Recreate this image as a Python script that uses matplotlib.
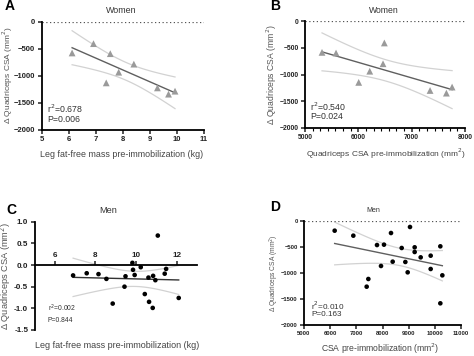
import numpy as np
import matplotlib
matplotlib.use("Agg")
import matplotlib.pyplot as plt
from matplotlib.ticker import MultipleLocator, AutoMinorLocator

plt.rcParams['font.family'] = ['Liberation Sans', 'DejaVu Sans']

# Panel A: women, leg fat-free mass (kg) vs delta quadriceps CSA (mm2)
a_x = [6.13, 6.92, 7.54, 8.41, 7.85, 7.39, 9.28, 9.69, 9.93]
a_y = [-580, -407, -593, -787, -937, -1135, -1228, -1344, -1289]
# Panel B: women, quadriceps CSA pre (mm2) vs delta CSA
b_x = [5319, 5582, 6007, 6214, 6463, 6488, 7345, 7651, 7758]
b_y = [-584, -597, -1148, -938, -798, -407, -1300, -1350, -1236]
# Panel C: men, leg fat-free mass (kg) vs delta CSA
c_x = [6.9, 7.57, 8.15, 8.54, 8.85, 9.43, 9.48, 9.82, 9.85, 9.93, 10.23,
       10.43, 10.61, 10.64, 10.82, 10.84, 10.95, 11.07, 11.41, 11.48, 12.1]
c_y = [-0.24, -0.19, -0.21, -0.32, -0.89, -0.5, -0.26, 0.05, -0.11, -0.23, -0.05,
       -0.67, -0.29, -0.85, -0.99, -0.25, -0.35, 0.68, -0.2, -0.09, -0.76]
# Panel D: men, CSA pre (mm2) vs delta CSA
d_x = [6172, 6885, 7395, 7459, 7790, 8057, 7943, 8325, 8389, 8733, 8873,
       8962, 9051, 9229, 9229, 9459, 9841, 9841, 10210, 10210, 10287]
d_y = [-186, -282, -1263, -1115, -462, -455, -865, -231, -782, -519, -788,
       -987, -115, -506, -596, -699, -667, -923, -487, -1583, -1045]

stats = {'A': ('0.678', '0.006'), 'B': ('0.540', '0.024'),
         'C': ('0.002', '0.844'), 'D': ('0.010', '0.163')}
t_crit = {9: 2.365, 21: 2.093}
ylab = 'Δ Quadriceps CSA (mm$^2$)'

W, H = 474, 356
fig = plt.figure(figsize=(W / 100, H / 100), dpi=100)


def add_ax(x0, y0, x1, y1):
    return fig.add_axes([x0 / W, 1 - y1 / H, (x1 - x0) / W, (y1 - y0) / H])


def fx(px):
    return px / W


def fy(py):
    return 1 - py / H


def fit_band(ax, x, y, line_c='#5f5f5f'):
    x = np.asarray(x, float)
    y = np.asarray(y, float)
    n = len(x)
    b, a = np.polyfit(x, y, 1)
    xs = np.linspace(x.min(), x.max(), 100)
    yhat = a + b * xs
    resid = y - (a + b * x)
    s = np.sqrt(np.sum(resid ** 2) / (n - 2))
    se = s * np.sqrt(1 / n + (xs - x.mean()) ** 2 / np.sum((x - x.mean()) ** 2))
    ax.plot(xs, yhat, color=line_c, lw=1.0, zorder=2)
    ax.plot(xs, yhat + t_crit[n] * se, color='#d2d2d2', lw=0.9, zorder=1)
    ax.plot(xs, yhat - t_crit[n] * se, color='#d2d2d2', lw=0.9, zorder=1)


def style(ax, tick_fs, ylab_fs, ylab_x):
    for s in ['top', 'right']:
        ax.spines[s].set_visible(False)
    for s in ['left', 'bottom']:
        ax.spines[s].set_linewidth(1.3)
    ax.tick_params(length=3, width=1.1, labelsize=tick_fs, pad=1.5, colors='#222222')
    ax.tick_params(which='minor', length=2, width=0.8)
    for lab in ax.get_xticklabels() + ax.get_yticklabels():
        lab.set_fontweight('bold')
    ax.set_ylabel(ylab, fontsize=ylab_fs, color='#555555')
    ax.yaxis.set_label_coords(ylab_x, 0.5)
    ax.yaxis.label.set_va('center')


def texts(key, letter_xy, title, title_xy, title_fs, stat_x, stat_y, stat_fs,
          xlabel, xlabel_xy, xlabel_fs):
    r2, p = stats[key]
    fig.text(fx(letter_xy[0]), fy(letter_xy[1]), key, fontsize=10, fontweight='bold',
             ha='center', va='center')
    fig.text(fx(title_xy[0]), fy(title_xy[1]), title, fontsize=title_fs, color='#333333',
             ha='center', va='center')
    fig.text(fx(stat_x), fy(stat_y[0]), 'r$^2$=' + r2, fontsize=stat_fs, color='#333333',
             ha='left', va='center')
    fig.text(fx(stat_x), fy(stat_y[1]), 'P=' + p, fontsize=stat_fs, color='#333333',
             ha='left', va='center')
    fig.text(fx(xlabel_xy[0]), fy(xlabel_xy[1]), xlabel, fontsize=xlabel_fs, color='#444444',
             ha='center', va='center')


tri = dict(marker='^', s=24, color='#9a9a9a', edgecolor='none', zorder=3, clip_on=False)
dot = dict(marker='o', s=11, color='black', edgecolor='none', zorder=3, clip_on=False)
dotted = dict(color='#555555', lw=0.9, ls=(0, (1, 2)))

# A
ax = add_ax(41.5, 21.7, 204, 129.5)
ax.scatter(a_x, a_y, **tri)
fit_band(ax, a_x, a_y)
ax.axhline(0, **dotted)
ax.set_xlim(5, 11)
ax.set_ylim(-2000, 0)
ax.yaxis.set_major_locator(MultipleLocator(500))
ax.xaxis.set_major_locator(MultipleLocator(1))
style(ax, 5.5, 6.0, -0.21)
texts('A', (9.5, 6), 'Women', (121, 10.7), 6.4, 47, (109, 119.3), 6.3,
      'Leg fat-free mass pre-immobilization (kg)', (122, 154), 6.4)

# B
ax = add_ax(305, 21.3, 465, 127.7)
ax.scatter(b_x, b_y, **tri)
fit_band(ax, b_x, b_y)
ax.axhline(0, **dotted)
ax.set_xlim(5000, 8000)
ax.set_ylim(-2000, 0)
ax.yaxis.set_major_locator(MultipleLocator(500))
ax.xaxis.set_major_locator(MultipleLocator(1000))
ax.xaxis.set_minor_locator(AutoMinorLocator(7))
style(ax, 4.9, 6.2, -0.206)
texts('B', (275, 6.5), 'Women', (383.7, 10.7), 6.2, 310, (107.3, 116.7), 6.3,
      'Quadriceps CSA pre-immobilization (mm$^2$)', (386, 154), 6.0)

# C
ax = add_ax(34.5, 221.7, 197, 330)
ax.scatter(c_x, c_y, **dot)
fit_band(ax, c_x, c_y, line_c='#333333')
ax.set_xlim(5, 13)
ax.set_ylim(-1.5, 1.0)
ax.yaxis.set_major_locator(MultipleLocator(0.5))
ax.xaxis.set_major_locator(MultipleLocator(2))
ax.xaxis.set_major_formatter(lambda v, p: '' if v < 6 or v > 12 else '%d' % v)
ax.yaxis.set_major_formatter(lambda v, p: '%.1f' % v)
style(ax, 5.9, 6.7, -0.175)
ax.spines['bottom'].set_visible(False)
ax.spines['top'].set_visible(True)
ax.spines['top'].set_position(('data', 0))
ax.spines['top'].set_linewidth(1.3)
ax.xaxis.tick_top()
for lab in ax.get_xticklabels():
    lab.set_fontweight('bold')
texts('C', (11.5, 210), 'Men', (107.7, 210.3), 6.6, 48, (308.7, 320), 4.9,
      'Leg fat-free mass pre-immobilization (kg)', (117, 346), 6.5)

# D
ax = add_ax(304, 221, 461, 325)
ax.scatter(d_x, d_y, **dot)
fit_band(ax, d_x, d_y)
ax.axhline(0, **dotted)
ax.set_xlim(5000, 11000)
ax.set_ylim(-2000, 0)
ax.yaxis.set_major_locator(MultipleLocator(500))
ax.xaxis.set_major_locator(MultipleLocator(1000))
style(ax, 4.2, 4.8, -0.19)
texts('D', (275, 207.5), 'Men', (373, 210.3), 5.0, 311, (305.3, 314.7), 5.9,
      'CSA pre-immobilization (mm$^2$)', (380, 348.5), 6.2)

fig.savefig('out.png', dpi=100, facecolor='white')
